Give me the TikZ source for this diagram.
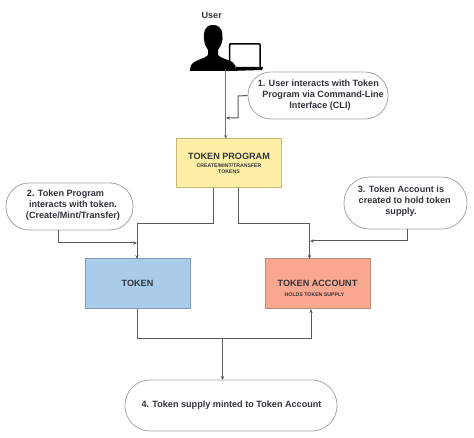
\documentclass[tikz,border=0pt]{standalone}
\usepackage{fontspec}
\setmainfont{Liberation Sans}
\usetikzlibrary{arrows.meta}
\definecolor{lineC}{HTML}{5A5A5A}
\definecolor{bubbleC}{HTML}{A8A8A8}
\definecolor{txtC}{HTML}{33333A}
\definecolor{yel}{HTML}{FDF0A6}
\definecolor{yelB}{HTML}{C4B878}
\definecolor{blu}{HTML}{A9CCEB}
\definecolor{bluB}{HTML}{7D9DBB}
\definecolor{sal}{HTML}{FAA78F}
\definecolor{salB}{HTML}{B98A7C}
\tikzset{
  x=1pt,y=-1pt,
  bubble/.style={rectangle,draw=bubbleC,line width=.8pt,fill=white,inner sep=0pt},
  boxn/.style={rectangle,line width=1pt,inner sep=0pt,minimum width=105pt},
  tmain/.style={text=txtC,inner sep=0pt,align=center,font=\fontsize{9.1}{11}\selectfont\bfseries},
  wire/.style={draw=lineC,line width=1pt},
  arr/.style={wire,-{Stealth[length=4pt,width=3.4pt]}},
  subt/.style={text=txtC,inner sep=0pt,align=center,font=\fontsize{5.2}{6}\selectfont\bfseries}
}
\begin{document}
\begin{tikzpicture}
\useasboundingbox (0,0) rectangle (474,438);
\fill[white] (0,0) rectangle (474,438);
% user icon
\fill[black] (213,25) .. controls (204,25) and (203.5,33) .. (204,39)
  .. controls (204.3,44) and (206,47) .. (208,50) -- (208,55)
  .. controls (203,60) and (192,60) .. (190.5,67) -- (190,70.8) -- (236,70.8) -- (235.5,66)
  .. controls (234,60) and (223,60) .. (218,55) -- (218,50)
  .. controls (220,47) and (222,44) .. (222.5,39) .. controls (223,33) and (222,25) .. (213,25) -- cycle;
\draw[black,line width=1.5pt,rounded corners=.8pt] (229.5,66.5) -- (229.5,44) -- (260,44) -- (260,67);
\fill[black] (236,67) -- (263,67) -- (262,70) -- (236,70.8) -- cycle;
\node[tmain] (usr) at (211.7,15.5) {User};
\coordinate (usrb) at (225.7,70.5);
% boxes
\node[boxn,fill=yel,draw=yelB,minimum height=49pt] (prog) at (229,163.5) {};
\node[tmain] (progt) at (229,156) {TOKEN PROGRAM};
\node[subt] (progs) at (229,168.7) {CREATE/MINT/TRANSFER\\TOKENS};
\node[boxn,fill=blu,draw=bluB,minimum height=50pt] (tok) at (137.5,284) {};
\node[tmain] (tokt) at (137.5,283) {TOKEN};
\node[boxn,fill=sal,draw=salB,minimum height=50pt] (acc) at (317.5,284) {};
\node[tmain] (acct) at (317.5,283) {TOKEN ACCOUNT};
\node[subt] (accs) at (314.5,295) {HOLDS TOKEN SUPPLY};
% bubbles
\node[bubble,rounded corners=23pt,minimum width=140pt,minimum height=47pt] (b1) at (318,95.5) {};
\node[tmain] (b1t) at (323,95) {1. User interacts with Token\hspace*{9.4pt}\\Program via Command-Line\\Interface (CLI)\hspace*{6pt}};
\node[bubble,rounded corners=23pt,minimum width=127pt,minimum height=47pt] (b2) at (69.5,206.5) {};
\node[tmain] (b2t) at (73,205) {2. Token Program\hspace*{15pt}\\interacts with token.\hspace*{3.4pt}\\(Create/Mint/Transfer)};
\node[bubble,rounded corners=25.5pt,minimum width=123pt,minimum height=52pt] (b3) at (405.5,203) {};
\node[tmain] (b3t) at (404.7,201) {3. Token Account is\hspace*{7.4pt}\\created to hold token\\supply.\hspace*{7.4pt}};
\node[bubble,rounded corners=25pt,minimum width=212pt,minimum height=51pt] (b4) at (231,405.5) {};
\node[tmain] (b4t) at (231.5,404.7) {4. Token supply minted to Token Account};
% junctions
\coordinate (j1a) at (238,96);
\coordinate (j1b) at (238,118);
\coordinate (j1c) at (226,118);
\coordinate (pl) at (213.5,188);
\coordinate (pr) at (238,188);
\coordinate (pla) at (213.5,224);
\coordinate (tla) at (137,224);
\coordinate (tlb) at (137,259);
\coordinate (pra) at (238,224);
\coordinate (tra) at (309.5,224);
\coordinate (trb) at (309.5,259);
\coordinate (b2a) at (58,230);
\coordinate (b2b) at (58,243);
\coordinate (b2c) at (137,243);
\coordinate (b3a) at (407,229);
\coordinate (b3b) at (407,241);
\coordinate (b3c) at (310,241);
\coordinate (ta) at (137,309);
\coordinate (tb) at (137,339);
\coordinate (tc) at (311,339);
\coordinate (td) at (311,309);
\coordinate (me) at (222.5,339);
\coordinate (mf) at (222.5,380);
\coordinate (pt) at (225.7,139);
% connectors
\draw[arr,line width=1.4pt,draw=lineC!85] (usrb) -- (pt);
\draw[arr] (b1.west) -- (j1a) -- (j1b) -- (j1c);
\draw[arr] (pl) -- (pla) -- (tla) -- (tlb);
\draw[arr] (pr) -- (pra) -- (tra) -- (trb);
\draw[arr] (b2a) -- (b2b) -- (b2c);
\draw[arr] (b3a) -- (b3b) -- (b3c);
\draw[arr] (ta) -- (tb) -- (tc) -- (td);
\draw[arr] (me) -- (mf);
\end{tikzpicture}
\end{document}
